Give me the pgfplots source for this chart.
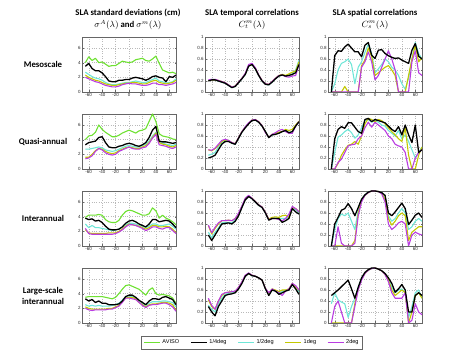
\documentclass[border=0pt]{standalone}
\usepackage{pgfplots}
\pgfplotsset{compat=1.18}
\usepackage{pgfplotstable}
\usepackage{fontspec}
\setmainfont{Carlito}
\newfontfamily\tickfont{Liberation Sans}
\definecolor{cav}{RGB}{110,225,50}
\definecolor{cq}{RGB}{0,0,0}
\definecolor{ch}{RGB}{110,230,215}
\definecolor{co}{RGB}{195,200,0}
\definecolor{ct}{RGB}{185,60,225}

% ---------- Mesoscale ----------
\pgfplotstableread{
lat a q h o t
-65 4.0 3.5 2.7 2.3 2.0
-60 4.8 3.9 2.4 2.0 1.8
-55 4.3 3.2 2.1 1.8 1.6
-50 4.6 2.9 1.9 1.6 1.4
-45 4.0 2.9 1.8 1.5 1.3
-40 4.1 2.6 1.6 1.3 1.1
-35 3.8 2.1 1.3 1.1 0.9
-30 3.5 1.5 1.1 1.0 0.8
-25 3.6 1.4 1.0 0.9 0.7
-20 3.6 1.4 1.0 0.9 0.7
-15 3.9 1.6 1.1 1.0 0.8
-10 4.2 1.6 1.2 1.1 1.0
-5 4.1 1.7 1.3 1.2 1.1
0 4.0 1.7 1.3 1.2 1.2
5 4.1 1.9 1.4 1.3 1.1
10 4.4 2.0 1.5 1.3 1.1
15 4.5 1.9 1.4 1.2 1.0
20 4.6 1.8 1.3 1.1 0.9
25 4.3 1.6 1.3 1.1 0.9
30 4.2 1.8 1.5 1.3 1.0
35 4.5 2.1 1.7 1.5 1.2
40 4.9 2.2 1.9 1.6 1.2
45 3.9 2.0 1.5 1.3 1.0
50 3.0 1.9 1.4 1.2 1.0
55 2.8 1.4 1.2 1.1 0.9
60 2.6 2.1 1.3 1.2 1.0
65 2.7 2.0 1.4 1.3 1.1
70 2.5 2.3 1.8 1.6 1.3
}\tAa
\pgfplotstableread{
lat q h o t
-65 0.20 0.21 0.21 0.22
-60 0.22 0.23 0.22 0.23
-55 0.22 0.22 0.22 0.23
-50 0.20 0.20 0.21 0.21
-45 0.18 0.18 0.19 0.19
-40 0.16 0.16 0.17 0.17
-35 0.12 0.12 0.13 0.13
-30 0.08 0.08 0.09 0.09
-25 0.10 0.10 0.11 0.11
-20 0.17 0.17 0.18 0.18
-15 0.24 0.24 0.25 0.25
-10 0.32 0.32 0.33 0.34
-5 0.47 0.47 0.48 0.50
0 0.50 0.50 0.50 0.52
5 0.42 0.42 0.43 0.44
10 0.30 0.30 0.31 0.31
15 0.20 0.20 0.21 0.21
20 0.14 0.14 0.15 0.15
25 0.13 0.13 0.14 0.14
30 0.18 0.18 0.19 0.19
35 0.24 0.24 0.25 0.25
40 0.29 0.29 0.30 0.30
45 0.31 0.31 0.32 0.31
50 0.29 0.29 0.30 0.28
55 0.30 0.31 0.33 0.27
60 0.32 0.33 0.36 0.29
65 0.35 0.40 0.38 0.30
70 0.50 0.58 0.55 0.50
}\tAb
\pgfplotstableread{
lat q h o t
-65 0 0 0 0
-60 0.66 0.15 0 0
-55 0.75 0.40 0 0
-50 0.74 0.52 0 0
-45 0.82 0.55 0.10 0
-40 0.87 0.60 0 0
-35 0.80 0.50 0 0
-30 0.73 0.15 0 0
-25 0.73 0.45 0 0
-20 0.64 0.55 0.48 0.45
-15 0.85 0.72 0.58 0.55
-10 0.90 0.87 0.80 0.73
-5 0.67 0.70 0.65 0.55
0 0.61 0.35 0.30 0.22
5 0.76 0.42 0.35 0.30
10 0.77 0.50 0.40 0.45
15 0.70 0.60 0.45 0.60
20 0.66 0.55 0.48 0.75
25 0.63 0.45 0.40 0.60
30 0.61 0.40 0.30 0.40
35 0.62 0.30 0 0
40 0.58 0.15 0 0
45 0.55 0.05 0 0
50 0.52 0.25 0.30 0
55 0.76 0.60 0.60 0.55
60 0.88 0.90 0.85 0.75
65 0.65 0.70 0.55 0.35
70 0.60 0.60 0.62 0.30
}\tAc
% ---------- Quasi-annual ----------
\pgfplotstableread{
lat a q h o t
-65 4.0 3.3 2.7 1.6 1.4
-60 4.5 3.6 2.7 1.6 1.5
-55 4.6 3.7 2.8 2.0 1.8
-50 5.0 3.8 2.9 2.5 2.4
-45 6.0 4.3 3.0 2.8 2.8
-40 5.4 4.4 2.9 2.7 2.6
-35 5.0 3.6 2.6 2.4 2.2
-30 4.7 3.0 2.5 2.2 2.0
-25 4.4 2.9 2.4 2.1 1.9
-20 4.4 2.9 2.5 2.2 2.0
-15 4.6 3.1 2.7 2.5 2.4
-10 4.9 3.2 2.9 2.7 2.6
-5 5.1 3.4 3.1 2.9 2.8
0 5.3 3.5 3.2 3.0 3.0
5 5.1 3.4 3.1 2.9 2.8
10 4.9 3.2 3.0 2.8 2.7
15 5.2 3.1 3.0 2.8 2.7
20 5.3 3.3 3.2 3.0 2.9
25 5.5 3.6 3.4 3.2 3.0
30 6.5 4.3 3.8 3.6 3.5
35 7.5 5.3 4.5 4.3 4.2
40 6.5 5.8 5.0 4.9 4.7
45 4.8 3.8 3.8 3.6 3.3
50 4.5 3.7 3.5 3.4 3.2
55 4.4 3.7 3.4 3.3 3.1
60 4.3 3.6 3.3 3.1 2.9
65 4.1 3.5 3.2 3.0 2.8
70 4.0 3.6 3.4 3.2 3.0
}\tBa
\pgfplotstableread{
lat q h o t
-65 0.20 0.25 0.35 0.35
-60 0.22 0.27 0.33 0.34
-55 0.25 0.30 0.37 0.38
-50 0.35 0.40 0.43 0.45
-45 0.45 0.48 0.50 0.52
-40 0.50 0.52 0.53 0.54
-35 0.50 0.52 0.52 0.52
-30 0.47 0.47 0.48 0.48
-25 0.45 0.45 0.46 0.46
-20 0.56 0.56 0.57 0.57
-15 0.67 0.67 0.68 0.68
-10 0.75 0.76 0.76 0.77
-5 0.82 0.83 0.83 0.84
0 0.88 0.88 0.89 0.89
5 0.89 0.89 0.90 0.90
10 0.85 0.85 0.86 0.86
15 0.78 0.78 0.79 0.79
20 0.68 0.68 0.67 0.66
25 0.57 0.58 0.58 0.58
30 0.62 0.62 0.63 0.63
35 0.63 0.64 0.65 0.66
40 0.65 0.66 0.67 0.70
45 0.68 0.68 0.68 0.72
50 0.70 0.70 0.72 0.68
55 0.66 0.66 0.70 0.65
60 0.68 0.68 0.72 0.65
65 0.78 0.78 0.80 0.78
70 0.86 0.86 0.87 0.86
}\tBb
\pgfplotstableread{
lat q h o t
-65 0 0 0 0
-60 0.55 0.30 0 0
-55 0.72 0.58 0.10 0.12
-50 0.77 0.62 0.25 0.18
-45 0.74 0.68 0.35 0.30
-40 0.84 0.72 0.43 0.42
-35 0.84 0.66 0.45 0.44
-30 0.76 0.56 0.50 0.45
-25 0.68 0.62 0.45 0.55
-20 0.65 0.75 0.60 0.60
-15 0.90 0.88 0.82 0.75
-10 0.92 0.90 0.92 0.85
-5 0.86 0.85 0.90 0.76
0 0.90 0.88 0.86 0.85
5 0.88 0.85 0.90 0.80
10 0.86 0.80 0.88 0.75
15 0.84 0.78 0.82 0.70
20 0.78 0.70 0.75 0.60
25 0.72 0.65 0.68 0.55
30 0.68 0.60 0.62 0.45
35 0.77 0.70 0.55 0.42
40 0.62 0.55 0.50 0.40
45 0.80 0.62 0.75 0.30
50 0.62 0.50 0.25 0
55 0.48 0.35 0 0
60 0.80 0.20 0 0.20
65 0.30 0.30 0.25 0.30
70 0.35 0.40 0.40 0.35
}\tBc
% ---------- Interannual ----------
\pgfplotstableread{
lat a q h o t
-65 3.9 3.8 3.0 2.2 2.4
-60 4.2 3.6 2.5 1.8 1.7
-55 4.2 3.7 2.8 1.7 1.6
-50 4.2 3.4 2.5 1.7 1.6
-45 4.3 3.5 2.5 1.7 1.6
-40 4.2 3.2 2.4 1.7 1.6
-35 3.6 2.7 2.3 1.7 1.6
-30 3.3 2.3 2.2 1.8 1.6
-25 3.2 2.2 2.1 1.8 1.6
-20 3.2 2.2 2.2 1.8 1.7
-15 3.5 2.3 2.3 2.0 1.9
-10 4.2 2.6 2.6 2.3 2.2
-5 4.7 3.1 2.9 2.7 2.6
0 4.9 3.4 3.1 3.0 2.9
5 4.8 3.5 3.1 2.9 2.9
10 4.6 3.3 3.0 2.8 2.8
15 4.4 3.0 2.8 2.7 2.6
20 4.2 2.8 2.7 2.5 2.4
25 4.2 2.6 2.5 2.3 2.1
30 4.4 3.0 2.7 2.5 2.3
35 5.2 3.6 3.0 2.8 2.6
40 4.8 3.6 3.0 2.8 2.6
45 3.8 3.3 2.8 2.6 2.4
50 4.2 3.4 2.8 2.6 2.3
55 3.8 3.5 2.9 2.7 2.5
60 3.6 3.4 3.0 2.6 2.5
65 3.3 3.0 2.7 2.3 2.1
70 2.9 2.5 2.3 1.8 1.7
}\tCa
\pgfplotstableread{
lat q h o t
-65 0.20 0.25 0.37 0.38
-60 0.10 0.15 0.22 0.24
-55 0.20 0.25 0.32 0.34
-50 0.30 0.33 0.40 0.42
-45 0.40 0.42 0.46 0.46
-40 0.41 0.43 0.46 0.46
-35 0.42 0.43 0.47 0.47
-30 0.40 0.42 0.46 0.46
-25 0.45 0.47 0.50 0.50
-20 0.55 0.56 0.58 0.60
-15 0.70 0.71 0.72 0.73
-10 0.84 0.85 0.86 0.87
-5 0.90 0.90 0.91 0.92
0 0.86 0.86 0.87 0.87
5 0.80 0.80 0.81 0.81
10 0.74 0.74 0.75 0.75
15 0.70 0.70 0.71 0.71
20 0.60 0.60 0.61 0.61
25 0.47 0.48 0.49 0.48
30 0.50 0.51 0.52 0.50
35 0.50 0.51 0.53 0.50
40 0.50 0.50 0.52 0.48
45 0.43 0.50 0.55 0.46
50 0.46 0.50 0.56 0.50
55 0.50 0.52 0.52 0.58
60 0.68 0.68 0.70 0.72
65 0.62 0.66 0.68 0.68
70 0.58 0.60 0.62 0.62
}\tCb
\pgfplotstableread{
lat q h o t
-65 0 0 0 0
-60 0.40 0.30 0 0
-55 0.52 0.50 0 0.35
-50 0.65 0.58 0 0.05
-45 0.68 0.55 0 0
-40 0.77 0.60 0 0
-35 0.68 0.45 0 0
-30 0.55 0.30 0.10 0.05
-25 0.70 0.65 0.60 0.55
-20 0.85 0.85 0.82 0.80
-15 0.93 0.93 0.92 0.92
-10 0.98 0.98 0.97 0.97
-5 1.00 1.00 1.00 1.00
0 1.00 1.00 1.00 1.00
5 0.99 0.99 0.99 0.99
10 0.97 0.97 0.96 0.95
15 0.92 0.90 0.85 0.80
20 0.60 0.55 0.50 0.40
25 0.55 0.45 0.38 0.30
30 0.62 0.50 0.45 0.35
35 0.70 0.60 0.55 0.42
40 0.78 0.68 0.60 0.45
45 0.68 0.60 0.55 0.40
50 0.39 0.30 0.10 0
55 0.47 0.35 0.25 0.20
60 0.56 0.45 0.30 0.25
65 0.60 0.50 0.35 0.22
70 0.52 0.45 0.35 0.20
}\tCc
% ---------- Large-scale interannual ----------
\pgfplotstableread{
lat a q h o t
-65 3.5 3.3 2.5 2.2 2.0
-60 3.6 3.0 2.3 2.0 1.8
-55 3.6 3.2 2.4 1.9 1.7
-50 3.6 2.8 2.3 1.9 1.8
-45 3.6 3.0 2.4 1.9 1.8
-40 3.6 2.7 2.3 1.9 1.8
-35 3.5 2.7 2.3 1.9 1.8
-30 3.4 2.5 2.3 2.0 1.9
-25 3.3 2.5 2.4 2.0 1.9
-20 3.5 2.5 2.5 2.2 2.1
-15 4.0 2.6 2.7 2.4 2.3
-10 4.6 3.0 3.1 2.9 2.8
-5 5.1 3.6 3.6 3.4 3.4
0 5.2 3.8 3.7 3.5 3.4
5 5.0 3.8 3.6 3.5 3.3
10 4.8 3.5 3.4 3.3 3.2
15 4.6 3.1 3.0 2.8 2.8
20 4.2 2.8 2.7 2.5 2.4
25 3.8 2.5 2.4 2.2 2.1
30 4.5 3.0 2.7 2.5 2.4
35 4.8 3.3 2.9 2.6 2.5
40 4.0 3.3 2.9 2.6 2.5
45 3.8 3.2 2.9 2.7 2.6
50 3.9 3.5 3.0 2.8 2.7
55 3.8 3.6 3.0 2.8 2.7
60 3.7 3.4 2.9 2.7 2.5
65 3.4 3.2 2.8 2.5 2.2
70 2.7 2.5 2.2 1.7 1.6
}\tDa
\pgfplotstableread{
lat q h o t
-65 0.30 0.32 0.42 0.45
-60 0.20 0.25 0.30 0.32
-55 0.13 0.20 0.25 0.25
-50 0.30 0.35 0.40 0.40
-45 0.40 0.45 0.50 0.52
-40 0.50 0.52 0.55 0.55
-35 0.52 0.54 0.56 0.56
-30 0.53 0.55 0.57 0.57
-25 0.55 0.56 0.57 0.58
-20 0.62 0.63 0.65 0.65
-15 0.72 0.73 0.74 0.75
-10 0.85 0.85 0.86 0.87
-5 0.90 0.90 0.90 0.91
0 0.86 0.86 0.87 0.87
5 0.85 0.85 0.85 0.85
10 0.82 0.82 0.82 0.82
15 0.78 0.78 0.78 0.78
20 0.62 0.62 0.63 0.63
25 0.50 0.52 0.54 0.55
30 0.60 0.60 0.62 0.62
35 0.58 0.58 0.60 0.58
40 0.52 0.55 0.57 0.55
45 0.55 0.57 0.60 0.50
50 0.58 0.60 0.60 0.58
55 0.60 0.60 0.62 0.62
60 0.70 0.70 0.72 0.72
65 0.62 0.64 0.65 0.68
70 0.52 0.56 0.60 0.60
}\tDb
\pgfplotstableread{
lat q h o t
-65 0.50 0.35 0 0
-60 0.55 0.55 0 0.30
-55 0.60 0.42 0 0.40
-50 0.66 0.38 0 0.20
-45 0.72 0.35 0 0
-40 0.78 0.10 0 0
-35 0.62 0.30 0 0
-30 0.45 0.45 0.35 0.30
-25 0.65 0.65 0.62 0.60
-20 0.82 0.82 0.80 0.78
-15 0.92 0.91 0.90 0.90
-10 0.97 0.96 0.96 0.96
-5 1.00 0.99 0.99 0.99
0 1.00 1.00 1.00 1.00
5 0.98 0.98 0.98 0.98
10 0.95 0.95 0.95 0.95
15 0.90 0.89 0.88 0.88
20 0.82 0.80 0.78 0.75
25 0.72 0.65 0.60 0.55
30 0.56 0.55 0.50 0.45
35 0.62 0.60 0.55 0.45
40 0.70 0.62 0.60 0.45
45 0.60 0.55 0.55 0.55
50 0.20 0.10 0 0
55 0.20 0.30 0.20 0.05
60 0.50 0.55 0.50 0.35
65 0.55 0.60 0.55 0.20
70 0.50 0.45 0.45 0.15
}\tDc

\pgfplotsset{
  panel/.style={width=94bp,height=55bp,scale only axis,
    xmin=-70,xmax=70,xtick={-60,-40,-20,0,20,40,60},
    grid=major,grid style={dotted,gray!55,line width=0.35pt},
    axis line style={black!60,line width=0.4pt},
    tick style={black!60,line width=0.3pt},
    major tick length=1.5bp,tick align=inside,
    ticklabel style={font=\tickfont\fontsize{4.5}{5}\selectfont,text=black!85},
    /pgf/number format/assume math mode=true,
    xticklabel style={inner sep=1.5bp},
    yticklabel style={inner sep=1.2bp},
    every axis plot/.append style={line width=1.1pt,line join=round},
    anchor=south west},
  sd/.style={panel,ymin=0,ymax=7.5,ytick={0,2,4,6}},
  cor/.style={panel,ymin=0,ymax=1,ytick={0,0.2,0.4,0.6,0.8,1},
    yticklabel style={/pgf/number format/fixed}},
}
\newcommand{\sdplots}[1]{%
  \addplot[cav] table[x=lat,y=a]{#1};
  \addplot[ch] table[x=lat,y=h]{#1};
  \addplot[co] table[x=lat,y=o]{#1};
  \addplot[ct] table[x=lat,y=t]{#1};
  \addplot[cq,line width=1.3pt] table[x=lat,y=q]{#1};
}
\newcommand{\corplots}[1]{%
  \addplot[ch] table[x=lat,y=h]{#1};
  \addplot[co] table[x=lat,y=o]{#1};
  \addplot[ct] table[x=lat,y=t]{#1};
  \addplot[cq,line width=1.3pt] table[x=lat,y=q]{#1};
}

\begin{document}
\begin{tikzpicture}
\useasboundingbox (0bp,0bp) rectangle (474bp,355bp);
% column titles
\tikzset{ttl/.style={font=\fontsize{8.8}{10}\selectfont\bfseries},
         tt1/.style={font=\fontsize{8.8}{10}\selectfont\bfseries,inner sep=0pt},
         sub/.style={font=\fontsize{8.8}{10}\selectfont,inner sep=0pt}}
\node[tt1] at (128bp,342bp) {SLA standard deviations (cm)};
\node[sub] at (128bp,330bp) {$\sigma^A(\lambda)$ \textbf{and} $\sigma^m(\lambda)$};
\node[tt1] at (252bp,342bp) {SLA temporal correlations};
\node[sub] at (252bp,330bp) {$C_t^m(\lambda)$};
\node[tt1] at (375bp,342bp) {SLA spatial correlations};
\node[sub] at (375bp,330bp) {$C_s^m(\lambda)$};
% row labels
\node[ttl] at (43bp,291bp) {Mesoscale};
\node[ttl] at (43bp,213.5bp) {Quasi-annual};
\node[ttl] at (43bp,136.5bp) {Interannual};
\node[font=\fontsize{8.8}{11}\selectfont\bfseries,align=center] at (43bp,59.5bp) {Large-scale\\interannual};

% row 1
\begin{axis}[sd,at={(82bp,263bp)}] \sdplots{\tAa} \end{axis}
\begin{axis}[cor,at={(205bp,263bp)}] \corplots{\tAb} \end{axis}
\begin{axis}[cor,at={(328bp,263bp)}] \corplots{\tAc} \end{axis}
% row 2
\begin{axis}[sd,at={(82bp,186bp)}] \sdplots{\tBa} \end{axis}
\begin{axis}[cor,at={(205bp,186bp)}] \corplots{\tBb} \end{axis}
\begin{axis}[cor,at={(328bp,186bp)}] \corplots{\tBc} \end{axis}
% row 3
\begin{axis}[sd,at={(82bp,109bp)}] \sdplots{\tCa} \end{axis}
\begin{axis}[cor,at={(205bp,109bp)}] \corplots{\tCb} \end{axis}
\begin{axis}[cor,at={(328bp,109bp)}] \corplots{\tCc} \end{axis}
% row 4
\begin{axis}[sd,at={(82bp,32bp)}] \sdplots{\tDa} \end{axis}
\begin{axis}[cor,at={(205bp,32bp)},
  legend columns=5,
  legend style={at={(0.5,-0.235)},anchor=north,draw=black!60,line width=0.4pt,
    font=\tickfont\fontsize{5.6}{6.5}\selectfont,inner sep=1.8bp,
    /tikz/every even column/.append style={column sep=9bp}},
  legend image code/.code={\draw[#1] (0bp,0bp) -- (16bp,0bp);}]
  \addlegendimage{cav,line width=1.1pt}\addlegendentry{AVISO}
  \addlegendimage{cq,line width=1.3pt}\addlegendentry{1/4deg}
  \addplot[ch] table[x=lat,y=h]{\tDb}; \addlegendentry{1/2deg}
  \addplot[co] table[x=lat,y=o]{\tDb}; \addlegendentry{1deg}
  \addplot[ct] table[x=lat,y=t]{\tDb}; \addlegendentry{2deg}
  \addplot[cq,line width=1.3pt,forget plot] table[x=lat,y=q]{\tDb};
\end{axis}
\begin{axis}[cor,at={(328bp,32bp)}] \corplots{\tDc} \end{axis}
\end{tikzpicture}
\end{document}
